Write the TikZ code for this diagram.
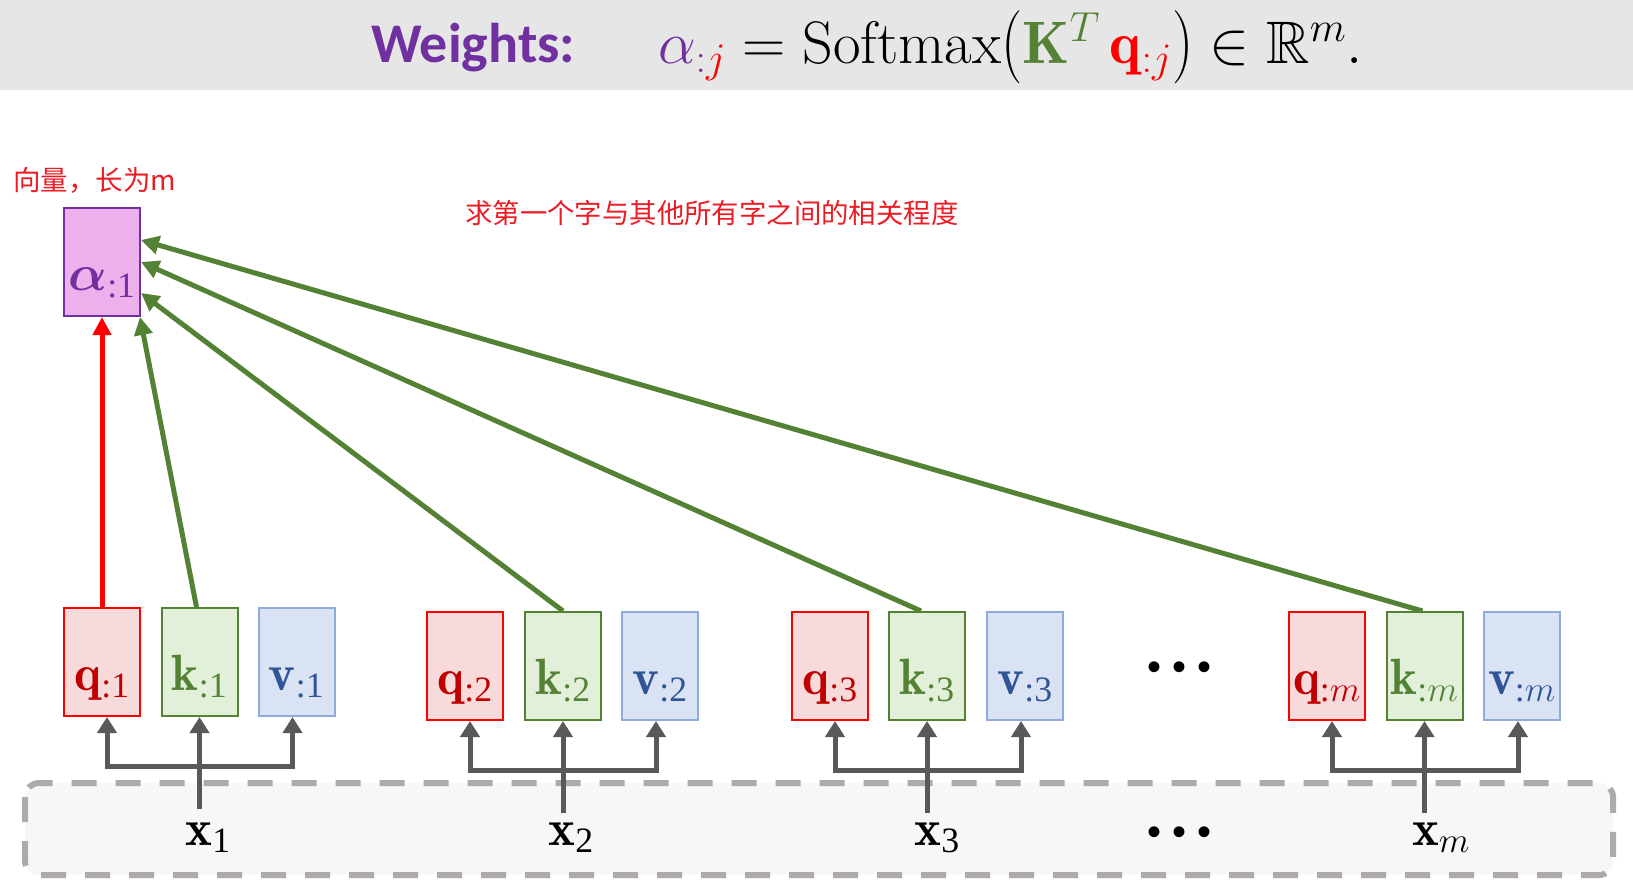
\RequirePackage{fix-cm}
\documentclass[tikz,border=0pt]{standalone}
\usepackage{amsmath,amssymb,bm,graphicx}
\usepackage{fontspec}
\newfontfamily\cjk{Noto Sans CJK SC}
\newfontfamily\calibri{Carlito}
\newfontfamily\arial{Liberation Sans}
\newfontfamily\subfont{Liberation Serif}
\newcommand{\subtx}[1]{\text{\subfont #1}}
\newcommand{\lpar}{\mathopen{\raisebox{-2pt}{\scalebox{1}[1.22]{$($}}}}
\newcommand{\rpar}{\mathclose{\raisebox{-2pt}{\scalebox{1}[1.22]{$)$}}}}
\usetikzlibrary{arrows.meta,calc}
\definecolor{titlegray}{HTML}{E6E6E6}
\definecolor{purp}{HTML}{7030A0}
\definecolor{afill}{HTML}{EEB0EC}
\definecolor{qfill}{HTML}{F8DADB}
\definecolor{qdraw}{HTML}{FF0000}
\definecolor{qtext}{HTML}{C00000}
\definecolor{kfill}{HTML}{E2F0D9}
\definecolor{kgreen}{HTML}{548235}
\definecolor{vfill}{HTML}{DAE3F3}
\definecolor{vdraw}{HTML}{8FAADC}
\definecolor{vtext}{HTML}{2F5597}
\definecolor{arrgray}{HTML}{595959}
\definecolor{framegray}{HTML}{AEAAAA}
\definecolor{framefill}{HTML}{F7F7F7}
\definecolor{cjkred}{HTML}{EC1C24}
\definecolor{pureRed}{HTML}{FF0000}
\begin{document}
\begin{tikzpicture}[x=1pt,y=-1pt,
  box/.style={draw, line width=2pt, minimum width=76pt, minimum height=108pt,
    inner sep=0pt, text height=56pt, text depth=0pt, font=\fontsize{51}{60}\selectfont},
  qbox/.style={box, draw=qdraw, fill=qfill, text=qtext},
  kbox/.style={box, draw=kgreen, fill=kfill, text=kgreen},
  vbox/.style={box, draw=vdraw, fill=vfill, text=vtext},
  abox/.style={box, draw=purp, fill=afill, text=purp},
  xlab/.style={inner sep=0pt, anchor=base, font=\fontsize{51}{60}\selectfont},
  garrow/.style={draw=arrgray, line width=5pt, -{Triangle[width=19pt,length=16pt]}},
  karrow/.style={draw=kgreen, line width=5pt, -{Triangle[width=18pt,length=18pt]}},
  qarrow/.style={draw=pureRed, line width=5pt, -{Triangle[width=18pt,length=18pt]}},
  dotrow/.style={inner sep=0pt, font=\arial\fontsize{40}{44}\selectfont},
  cjklab/.style={inner sep=0pt, anchor=base west, text=cjkred},
  frame/.style={draw=framegray, fill=framefill, line width=6pt, rounded corners=14pt,
    dash pattern=on 25pt off 19pt}
]
\useasboundingbox (0,0) rectangle (1633,892);
% title band
\fill[titlegray] (0,0) rectangle (1633,90);
\node[anchor=base west, inner sep=0pt, text=purp, font=\calibri\bfseries\fontsize{56}{60}\selectfont] (w) at (371,62) {Weights:};
\node[anchor=base west, inner sep=0pt, font=\fontsize{60}{66}\selectfont] (f) at (658,63)
  {${\color{purp}\alpha_{:{\color{red}j}}} = \mathrm{Softmax}\lpar{\color{kgreen}\mathbf{K}^{T}}\,{\color{red}\mathbf{q}_{:j}}\rpar \in \mathbb{R}^{m}.$};

% labels
\node[cjklab, font=\cjk\fontsize{27.5}{30}\selectfont] (lab1) at (13,190) {向量，长为m};
\node[cjklab, font=\cjk\fontsize{27.4}{30}\selectfont] (lab2) at (465,223) {求第一个字与其他所有字之间的相关程度};

% dashed frame
\draw[frame] (25,783) rectangle (1613,875);

% alpha box
\node[abox] (a) at (102,262) {$\boldsymbol{\alpha}_{\subtx{:1}}$};

% groups
\node[qbox] (q1) at (102,662) {$\mathbf{q}_{\subtx{:1}}$};
\node[kbox] (k1) at (199.5,662) {$\mathbf{k}_{\subtx{:1}}$};
\node[vbox] (v1) at (296.5,662) {$\mathbf{v}_{\subtx{:1}}$};

\node[qbox] (q2) at (465,666) {$\mathbf{q}_{\subtx{:2}}$};
\node[kbox] (k2) at (563,666) {$\mathbf{k}_{\subtx{:2}}$};
\node[vbox] (v2) at (660,666) {$\mathbf{v}_{\subtx{:2}}$};

\node[qbox] (q3) at (830,666) {$\mathbf{q}_{\subtx{:3}}$};
\node[kbox] (k3) at (927,666) {$\mathbf{k}_{\subtx{:3}}$};
\node[vbox] (v3) at (1025,666) {$\mathbf{v}_{\subtx{:3}}$};

\node[qbox] (qm) at (1327,666) {$\mathbf{q}_{\subtx{:}m}$};
\node[kbox] (km) at (1424.5,666) {$\mathbf{k}_{\subtx{:}m}$};
\node[vbox] (vm) at (1522,666) {$\mathbf{v}_{\subtx{:}m}$};

% dots
\node[dotrow] (d1) at (1179.5,671) {• • •};
\node[dotrow] (d2) at (1179.5,836) {• • •};

% x labels
\node[xlab] (x1) at (208,845) {$\mathbf{x}_{\subtx{1}}$};
\node[xlab] (x2) at (571,845) {$\mathbf{x}_{\subtx{2}}$};
\node[xlab] (x3) at (937,845) {$\mathbf{x}_{\subtx{3}}$};
\node[xlab] (xm) at (1441,845) {$\mathbf{x}_m$};

% stems and junctions
\coordinate (s1) at (199.5,809); \coordinate (h1) at (199.5,766);
\coordinate (s2) at (563,813);   \coordinate (h2) at (563,770);
\coordinate (s3) at (927,813);   \coordinate (h3) at (927,770);
\coordinate (sm) at (1424.5,813);\coordinate (hm) at (1424.5,770);

\foreach \g in {1,2,3,m}{
  \draw[garrow] (s\g) -- (k\g.south);
  \draw[garrow] (h\g) -| ([xshift=5pt]q\g.south);
  \draw[garrow] (h\g) -| ([xshift=-4pt]v\g.south);
}

% attention arrows
\draw[qarrow] (q1.north) -- (a.south);
\draw[karrow] ([xshift=-3pt]k1.north) -- ([xshift=-1pt]a.south east);
\draw[karrow] (k2.north) -- ([yshift=-31pt]a.east);
\draw[karrow] ([xshift=-6pt]k3.north) -- (a.east);
\draw[karrow] ([xshift=-2pt]km.north) -- ([yshift=22pt]a.east);
\end{tikzpicture}
\end{document}
